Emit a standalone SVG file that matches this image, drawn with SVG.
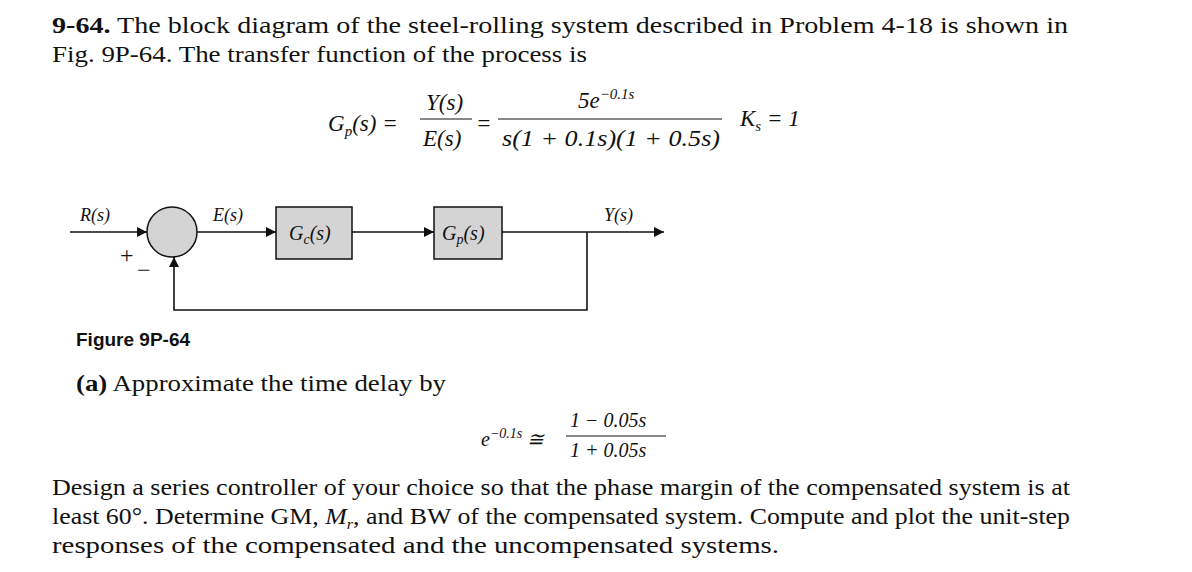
<svg xmlns="http://www.w3.org/2000/svg" width="1192" height="572" viewBox="0 0 1192 572">
<style>
.t{font-family:"Liberation Serif",serif;font-size:24px;fill:#111}
.i{font-family:"Liberation Serif",serif;font-style:italic;fill:#111}
.b{font-weight:bold}
.s{font-family:"Liberation Sans",sans-serif;font-weight:bold;font-size:19px;fill:#111}
.ln{stroke:#111;stroke-width:1.6;fill:none}
.bx{fill:#d4d4d4;stroke:#111;stroke-width:1.5}
</style>
<defs><marker id="a" viewBox="0 0 10 10" refX="10" refY="5" markerWidth="11" markerHeight="10" markerUnits="userSpaceOnUse" orient="auto"><path d="M0,0L10,5L0,10z" fill="#111"/></marker></defs>
<rect width="1192" height="572" fill="#fff"/>
<text class="t" x="52" y="33" textLength="1016" lengthAdjust="spacingAndGlyphs"><tspan class="b">9-64.</tspan> The block diagram of the steel-rolling system described in Problem 4-18 is shown in</text>
<text class="t" x="52" y="62" textLength="535" lengthAdjust="spacingAndGlyphs">Fig. 9P-64. The transfer function of the process is</text>
<g font-size="23">
<text class="i" x="328" y="131">G<tspan font-size="15" dy="5">p</tspan><tspan dy="-5">(s) =</tspan></text>
<text class="i" x="426" y="110">Y(s)</text><line x1="420" y1="119" x2="472" y2="119" stroke="#111"/>
<text class="i" x="423" y="146">E(s)</text>
<text class="i" x="476" y="131">=</text>
<text class="i" x="578" y="108">5e<tspan font-size="15" dy="-9">−0.1s</tspan></text>
<line x1="498" y1="119" x2="722" y2="119" stroke="#111"/>
<text class="i" x="502" y="146" textLength="218" lengthAdjust="spacingAndGlyphs">s(1 + 0.1s)(1 + 0.5s)</text>
<text class="i" x="740" y="126">K<tspan font-size="15" dy="5">s</tspan><tspan dy="-5"> = 1</tspan></text>
</g>
<g id="connectors">
<line class="ln" x1="70" y1="232" x2="147" y2="232" marker-end="url(#a)"/>
<line class="ln" x1="197" y1="232" x2="276" y2="232" marker-end="url(#a)"/>
<line class="ln" x1="352" y1="232" x2="434" y2="232" marker-end="url(#a)"/>
<line class="ln" x1="502" y1="232" x2="664" y2="232" marker-end="url(#a)"/>
<polyline class="ln" points="587,232 587,310 174,310 174,257" marker-end="url(#a)"/>
</g>
<g id="sum"><circle cx="172" cy="232" r="25" fill="#d4d4d4" stroke="#111" stroke-width="1.5"/></g>
<g id="gc"><rect class="bx" x="276" y="207" width="76" height="52"/><text class="i" x="289" y="240" font-size="20">G<tspan font-size="14" dy="4">c</tspan><tspan dy="-4">(s)</tspan></text></g>
<g id="gp"><rect class="bx" x="434" y="207" width="68" height="52"/><text class="i" x="442" y="240" font-size="20">G<tspan font-size="14" dy="4">p</tspan><tspan dy="-4">(s)</tspan></text></g>
<text class="i" x="80" y="221" font-size="18">R(s)</text>
<text class="i" x="213" y="221" font-size="18">E(s)</text>
<text class="i" x="604" y="221" font-size="18">Y(s)</text>
<text class="t" x="120" y="263" font-size="14">+</text>
<text class="t" x="137" y="278" font-size="14">−</text>
<text class="s" x="76" y="346">Figure 9P-64</text>
<text class="t" x="76" y="391" textLength="370" lengthAdjust="spacingAndGlyphs"><tspan class="b">(a)</tspan>  Approximate the time delay by</text>
<text class="i" x="481" y="446" font-size="20">e<tspan font-size="14" dy="-8">−0.1s</tspan><tspan dy="8"> ≅</tspan></text>
<text class="i" x="570" y="427" font-size="20">1 − 0.05s</text>
<line x1="566" y1="436" x2="666" y2="436" stroke="#111"/>
<text class="i" x="570" y="457" font-size="20">1 + 0.05s</text>
<text class="t" x="52" y="495" textLength="1018" lengthAdjust="spacingAndGlyphs">Design a series controller of your choice so that the phase margin of the compensated system is at</text>
<text class="t" x="52" y="524" textLength="1018" lengthAdjust="spacingAndGlyphs">least 60°. Determine GM, <tspan font-style="italic">M<tspan font-size="15" dy="5">r</tspan></tspan><tspan dy="-5">, and BW of the compensated system. Compute and plot the unit-step</tspan></text>
<text class="t" x="52" y="553" textLength="727" lengthAdjust="spacingAndGlyphs">responses of the compensated and the uncompensated systems.</text>
</svg>
